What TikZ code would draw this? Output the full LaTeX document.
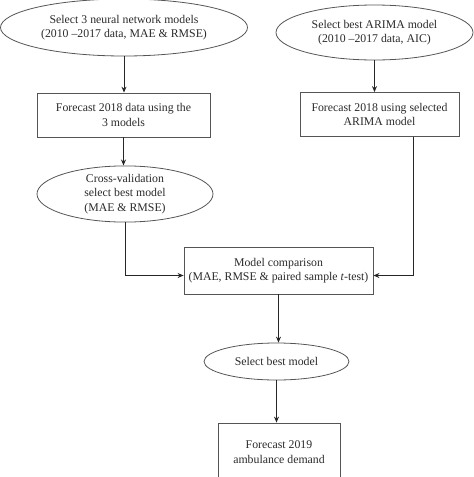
\documentclass[tikz,border=0pt]{standalone}
\usepackage{fontspec}
\setmainfont{Liberation Serif}
\usetikzlibrary{shapes.geometric,arrows.meta}
\definecolor{boxline}{HTML}{555555}
\definecolor{txt}{HTML}{2A2A2A}
\tikzset{
  base/.style={draw=boxline,line width=0.8pt,align=center,inner sep=0pt,text=txt,
    font=\fontsize{11.8}{14.5}\selectfont},
  ovalbox/.style={base,ellipse},
  rectbox/.style={base,rectangle},
  conn/.style={draw=black!85,line width=1pt,-{Stealth[length=6pt,width=5pt]}}
}
\begin{document}
\begin{tikzpicture}[x=1pt,y=-1pt]
\useasboundingbox (0,0) rectangle (474,477);
\node[ovalbox,minimum width=247pt,minimum height=57pt] (e1) at (124,27.5)
  {Select 3 neural network models\\(2010 --2017 data, MAE \& RMSE)};
\node[ovalbox,minimum width=197pt,minimum height=55pt] (e2) at (374.5,32.5)
  {Select best ARIMA model\\(2010 --2017 data, AIC)};
\node[rectbox,minimum width=173pt,minimum height=44pt] (b1) at (123.5,115)
  {Forecast 2018 data using the\\3 models};
\node[rectbox,minimum width=159pt,minimum height=44pt] (b2) at (379.5,114.5)
  {Forecast 2018 using selected\\ARIMA model};
\node[ovalbox,minimum width=176pt,minimum height=56pt] (e3) at (125,194)
  {Cross-validation\\select best model\\(MAE \& RMSE)};
\node[rectbox,minimum width=189pt,minimum height=47pt] (b3) at (278.5,270.5)
  {Model comparison\\(MAE, RMSE \& paired sample \textit{t}-test)};
\node[ovalbox,minimum width=145pt,minimum height=37pt] (e4) at (276.5,361.5)
  {Select best model};
\node[rectbox,minimum width=122pt,minimum height=58pt] (b4) at (279,452)
  {Forecast 2019\\ambulance demand};
\coordinate (jl) at ([yshift=-5pt]b3.west);
\coordinate (jr) at ([yshift=-5pt]b3.east);
\coordinate (rt) at ([xshift=33.5pt]b2.south);
\draw[conn] (e1.south) -- (e1.south |- b1.north);
\draw[conn] (e2.south) -- (e2.south |- b2.north);
\draw[conn] (b1.south) -- (b1.south |- e3.north);
\draw[conn] (e3.south) |- (jl);
\draw[conn] (rt) |- (jr);
\draw[conn] (b3.south) -- (b3.south |- e4.north);
\draw[conn] (e4.south) -- (e4.south |- b4.north);
\end{tikzpicture}
\end{document}
